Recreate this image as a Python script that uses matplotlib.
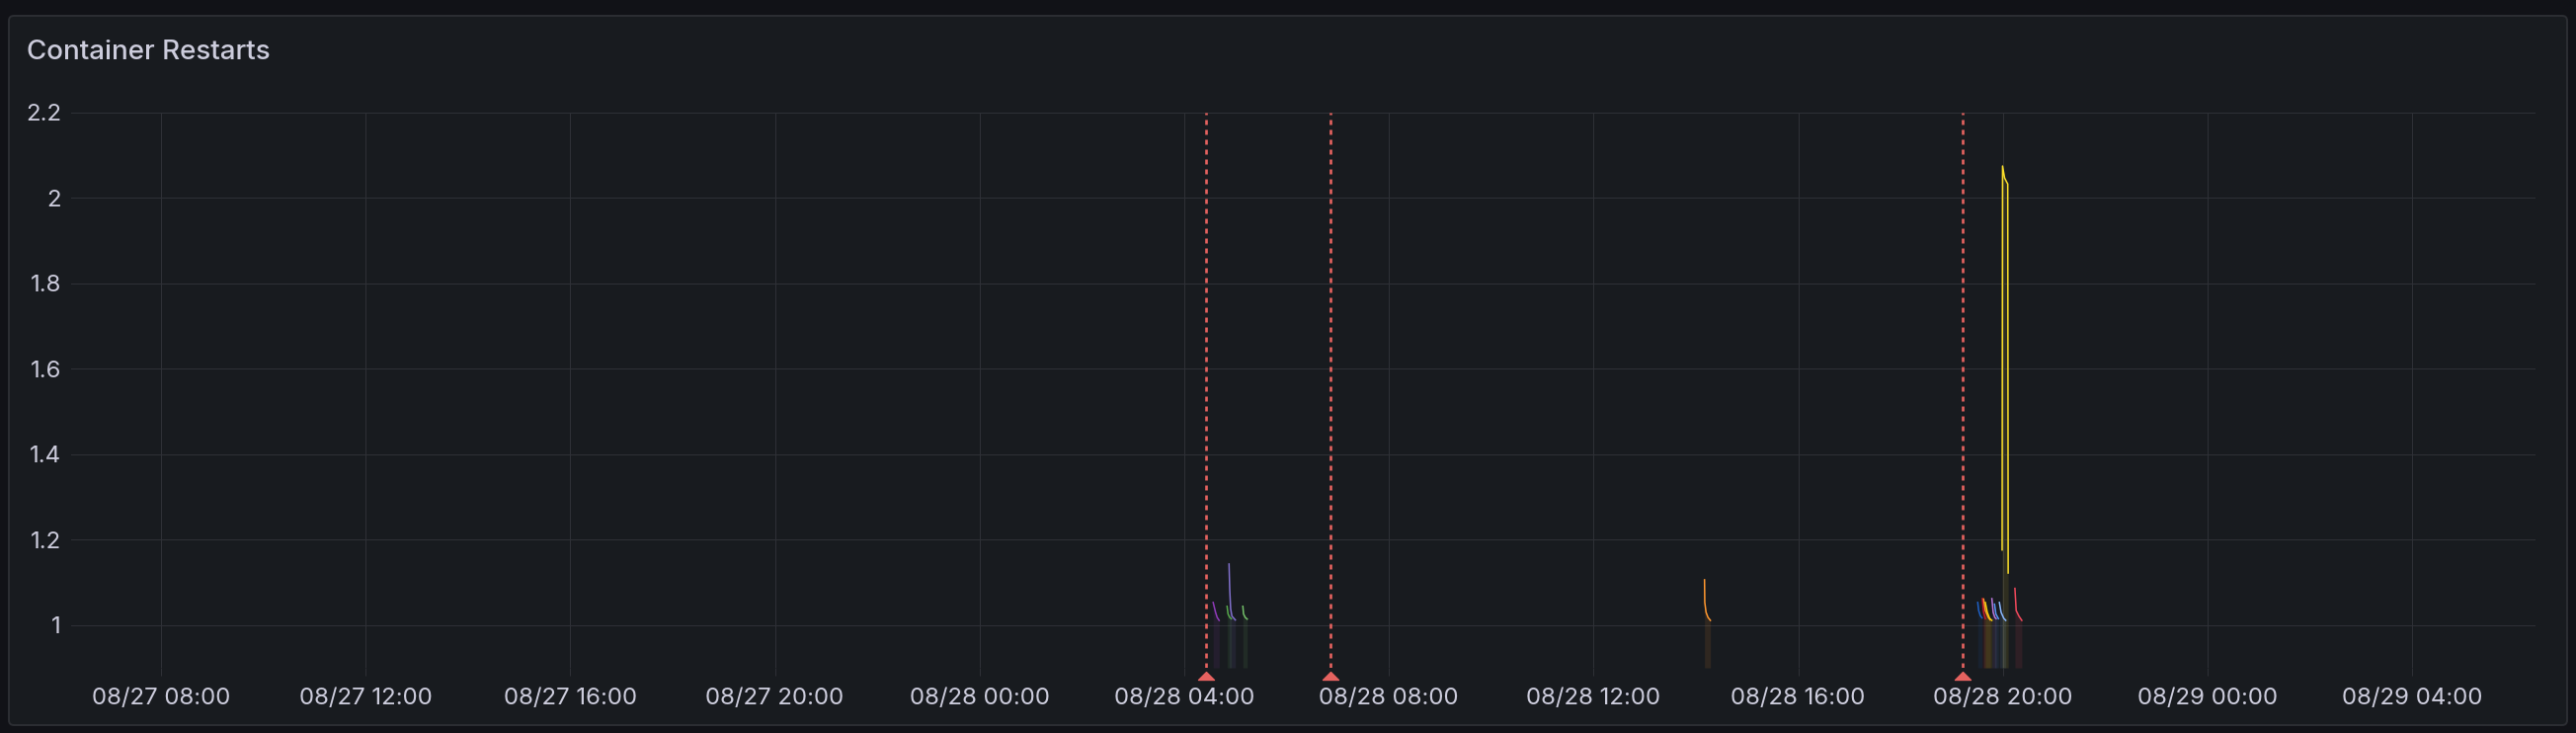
import matplotlib
matplotlib.use('Agg')
import matplotlib.pyplot as plt
import matplotlib.dates as mdates
import pandas as pd
from matplotlib.patches import FancyBboxPatch
from matplotlib.path import Path
from matplotlib.ticker import MultipleLocator, FuncFormatter

DAY = '2023-08-28 '

# restart counts per container, all on 08/28
pod_1_times = ['04:33:54', '04:36:42', '04:38:36', '04:40:54']
pod_1_values = [1.053, 1.030, 1.018, 1.011]
pod_2_times = ['04:50:12', '04:51:18', '04:53:18', '04:55:12']
pod_2_values = [1.044, 1.026, 1.018, 1.015]
pod_3_times = ['04:52:30', '04:53:18', '04:54:24', '04:55:54', '04:59:54']
pod_3_values = [1.143, 1.084, 1.038, 1.021, 1.012]
pod_4_times = ['05:08:42', '05:09:30', '05:11:30', '05:13:48']
pod_4_values = [1.044, 1.026, 1.018, 1.014]
pod_5_times = ['14:10:06', '14:10:24', '14:11:54', '14:14:12', '14:17:00']
pod_5_values = [1.106, 1.053, 1.030, 1.018, 1.011]
pod_6_times = ['19:30:30', '19:31:36', '19:33:36', '19:35:30']
pod_6_values = [1.053, 1.034, 1.022, 1.017]
pod_7_times = ['19:35:54', '19:37:24', '19:39:24']
pod_7_values = [1.062, 1.030, 1.015]
pod_8_times = ['19:37:24', '19:39:24', '19:42:54', '19:45:12']
pod_8_values = [1.061, 1.034, 1.018, 1.012]
pod_9_times = ['19:39:24', '19:41:42', '19:44:24', '19:47:06']
pod_9_values = [1.053, 1.030, 1.016, 1.011]
pod_10_times = ['19:47:06', '19:48:36', '19:50:36', '19:52:06']
pod_10_values = [1.062, 1.030, 1.018, 1.015]
pod_11_times = ['19:50:12', '19:51:48', '19:54:48']
pod_11_values = [1.049, 1.026, 1.015]
pod_12_times = ['19:55:54', '19:57:54', '20:01:00', '20:03:24']
pod_12_values = [1.053, 1.030, 1.016, 1.011]
pod_13_times = ['19:59:06', '19:59:36', '20:02:00', '20:04:18', '20:05:42', '20:06:12']
pod_13_values = [1.176, 2.075, 2.047, 2.038, 2.033, 1.122]
pod_14_times = ['20:14:06', '20:15:36', '20:18:48', '20:22:12']
pod_14_values = [1.086, 1.034, 1.021, 1.011]

series = [
    (pod_1_times, pod_1_values), (pod_2_times, pod_2_values),
    (pod_3_times, pod_3_values), (pod_4_times, pod_4_values),
    (pod_5_times, pod_5_values), (pod_6_times, pod_6_values),
    (pod_7_times, pod_7_values), (pod_8_times, pod_8_values),
    (pod_9_times, pod_9_values), (pod_10_times, pod_10_values),
    (pod_11_times, pod_11_values), (pod_12_times, pod_12_values),
    (pod_13_times, pod_13_values), (pod_14_times, pod_14_values),
]
colors = ['#8F3BB8', '#56A64B', '#7F6FC9', '#73BF69', '#FF9830',
          '#1F60C4', '#C4162A', '#FF9830', '#F2CC0C', '#B877D9',
          '#5794F2', '#8AB8FF', '#FADE2A', '#F2495C']

annotation_times = ['2023-08-28 04:25:30', '2023-08-28 06:51:24', '2023-08-28 19:12:42']
x_start = '2023-08-27 06:14:36'
x_end = '2023-08-29 06:24:36'
y_min, y_max = 0.9, 2.2

BG = '#111217'
PANEL = '#181b1f'
BORDER = '#2c2e33'
GRID = '#2e3036'
TEXT = '#ccccdc'
ANNO = '#E5625F'

W, H = 2608, 742
plt.rcParams['font.family'] = ['Inter', 'DejaVu Sans']
plt.rcParams['lines.scale_dashes'] = False

fig = plt.figure(figsize=(W / 100, H / 100), dpi=100, facecolor=BG)

panel = FancyBboxPatch((9 / 100, 8 / 100), 2590 / 100, 718 / 100,
                       boxstyle='round,pad=0,rounding_size=0.05',
                       transform=fig.dpi_scale_trans, facecolor=PANEL,
                       edgecolor=BORDER, linewidth=1.4, zorder=-1)
fig.patches.append(panel)

fig.text(27 / W, 1 - 60 / H, 'Container Restarts', color=TEXT, fontsize=20,
         fontweight='medium', va='baseline', ha='left')

ax = fig.add_axes([72 / W, 1 - 676 / H, (2567 - 72) / W, (676 - 114) / H])
ax.set_facecolor('none')
for s in ax.spines.values():
    s.set_visible(False)

for (times, values), c in zip(series, colors):
    t = pd.to_datetime([DAY + x for x in times])
    ax.plot(t, values, color=c, lw=1.1, solid_joinstyle='round')
    ax.fill_between(t, values, y_min, color=c, alpha=0.1, lw=0)

tri = Path([(-1, -0.5), (1, -0.5), (0, 0.5), (-1, -0.5)],
           [Path.MOVETO, Path.LINETO, Path.LINETO, Path.CLOSEPOLY])
for a in pd.to_datetime(annotation_times):
    ax.axvline(a, color=ANNO, lw=1.9, dashes=(3.6, 3.6), zorder=3)
    ax.plot([a], [-0.0142], marker=tri, markersize=11.5, color=ANNO,
            transform=ax.get_xaxis_transform(), clip_on=False, zorder=4)

ax.set_xlim(pd.Timestamp(x_start), pd.Timestamp(x_end))
ax.set_ylim(y_min, y_max)
ax.xaxis.set_major_locator(mdates.HourLocator(byhour=[0, 4, 8, 12, 16, 20]))
ax.xaxis.set_major_formatter(mdates.DateFormatter('%m/%d %H:%M'))
ax.yaxis.set_major_locator(MultipleLocator(0.2))
ax.yaxis.set_major_formatter(FuncFormatter(lambda v, p: '{:g}'.format(round(v, 2))))

ax.grid(True, color=GRID, lw=0.72)
ax.set_axisbelow(True)
ax.tick_params(axis='x', length=5.76, width=0.72, color=GRID, labelcolor=TEXT,
               labelsize=17.3, pad=9)
ax.tick_params(axis='y', length=0, labelcolor=TEXT, labelsize=17.3, pad=7.2)

fig.savefig('out.png', dpi=100, facecolor=BG)
